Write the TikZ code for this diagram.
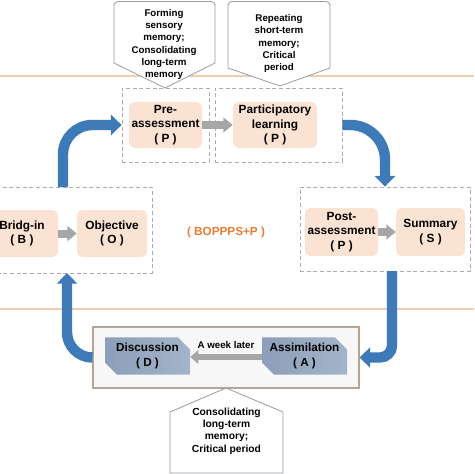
\documentclass[tikz,border=0pt]{standalone}
\usepackage{fontspec}
\setmainfont{Liberation Sans}
\usetikzlibrary{positioning,arrows.meta,shapes.misc}

\definecolor{flowblue}{RGB}{62,121,184}
\definecolor{stepfill}{RGB}{250,227,211}
\definecolor{framegray}{RGB}{172,172,175}
\definecolor{linetan}{RGB}{240,204,176}
\definecolor{slatefill}{RGB}{164,180,202}
\definecolor{slatedark}{RGB}{140,158,185}
\definecolor{calloutgray}{RGB}{150,157,167}
\definecolor{bopppsorange}{RGB}{233,124,52}
\definecolor{greyarrow}{RGB}{166,166,166}
\definecolor{reviewframe}{RGB}{180,166,150}

\tikzset{
  stepnode/.style={fill=stepfill, rounded corners=4pt, align=center, inner sep=0pt,
    font=\fontsize{8.9}{10.9}\selectfont\bfseries},
  reviewnode/.style={left color=slatedark, right color=slatefill, chamfered rectangle, chamfered rectangle corners={north east,south west},
    chamfered rectangle xsep=4.5pt, chamfered rectangle ysep=4.5pt, align=center, inner sep=0pt,
    font=\fontsize{8.8}{10.6}\selectfont\bfseries},
  stageframe/.style={draw=framegray, line width=0.6pt, dash pattern=on 3pt off 2pt, inner sep=0pt},
  memonote/.style={align=center, inner sep=0pt, font=\fontsize{7.3}{9.2}\selectfont\bfseries},
  memobox/.style={draw=calloutgray, fill=white, line width=0.6pt, line join=round},
  flowarrow/.style={draw=flowblue, line width=7.8pt, -{Triangle[width=15pt,length=8pt]}},
  steparrow/.style={draw=greyarrow, line width=6pt, -{Triangle[width=11pt,length=7pt]}},
}

\begin{document}
\begin{tikzpicture}[x=0.75pt,y=0.75pt,yscale=-1,xscale=1]
        \clip (0,0) rectangle (474,474);
        \fill[white] (0,0) rectangle (474,474);

        %Straight Lines: phase separators
        \draw[linetan, line width=0.9pt] (0,76) -- (474,76) ;
        \draw[linetan, line width=0.9pt] (0,309) -- (474,309) ;

        %Shape: stage frames
        \node [stageframe, minimum width=65.25pt, minimum height=55.5pt] (preframe) at (165.5,125) {};
        \node [stageframe, minimum width=95.25pt, minimum height=55.5pt] (partframe) at (278.5,125) {};
        \node [stageframe, minimum width=121.5pt, minimum height=64.5pt] (leftframe) at (71,230) {};
        \node [stageframe, minimum width=127.5pt, minimum height=63pt] (rightframe) at (385,229) {};
        \node [draw=reviewframe, fill=black!3, line width=0.8pt, minimum width=199.5pt, minimum height=45.75pt] (reviewframe) at (226,357.5) {};

        %Shape: top callouts
        \draw [memobox] (165,88) -- (114,63) -- (114,4) [rounded corners=3pt] -- (114,1.5) -- (215,1.5) [sharp corners] -- (215,4) -- (215,63) -- cycle ;
        \draw [memobox] (280,86) -- (228,68) -- (228,4) [rounded corners=3pt] -- (228,1.5) -- (330,1.5) [sharp corners] -- (330,4) -- (330,68) -- cycle ;
        %Shape: bottom callout
        \draw [memobox] (226,388) -- (283,412) -- (283,473) -- (170,473) -- (170,412) -- cycle ;

        % Text Node
        \node [memonote] (memoone) at (164,44.5) {Forming\\sensory\\memory;\\Consolidating\\long-term\\memory};
        % Text Node
        \node [memonote] (memotwo) at (279,43.5) {Repeating\\short-term\\memory;\\Critical\\period};
        % Text Node
        \node [memonote, font=\fontsize{7.7}{9.2}\selectfont\bfseries] (memothree) at (226.5,431) {Consolidating\\long-term\\memory;\\Critical period};

        % Step nodes
        \node [stepnode, minimum width=54.75pt, minimum height=34.5pt] (pre) at (165.5,125) {Pre-\\assessment\\( P )};
        \node [stepnode, minimum width=63pt, minimum height=34.5pt] (part) at (275,125) {Participatory\\learning\\( P )};
        \node [stepnode, minimum width=54pt, minimum height=35.25pt] (bridge) at (22,233.5) {Bridg-in\\( B )};
        \node [stepnode, minimum width=52.5pt, minimum height=35.25pt] (obj) at (112,233.5) {Objective\\( O )};
        \node [stepnode, minimum width=54.75pt, minimum height=36pt] (post) at (341.5,232) {Post-\\assessment\\( P )};
        \node [stepnode, minimum width=51.75pt, minimum height=36pt] (summ) at (430.5,232) {Summary\\( S )};
        \node [reviewnode, minimum width=63.75pt, minimum height=27pt] (disc) at (147.5,356) {Discussion\\( D )};
        \node [reviewnode, minimum width=63.75pt, minimum height=27pt] (assim) at (304.5,356) {Assimilation\\( A )};

        % Text Node
        \node [text=bopppsorange, font=\fontsize{8.8}{10}\selectfont\bfseries] (model) at (226,232) {( BOPPPS+P )};
        % Text Node
        \node [memonote] (later) at (226,345) {A week later};

        %Straight Lines: grey step arrows
        \draw [steparrow] (pre) -- (part) ;
        \draw [steparrow] (bridge) -- (obj) ;
        \draw [steparrow] (post) -- (summ) ;
        \draw [steparrow, line width=5pt, -{Triangle[width=10pt,length=6pt]}] (assim.west |- 0,357) -- (disc.east |- 0,357) ;

        %Curved Lines: blue flow arrows
        \coordinate (upstart) at (63,187) ;
        \coordinate (downstart) at (392,271) ;
        \coordinate (upend) at (67,273) ;
        \draw [flowarrow, rounded corners=22pt] (upstart) |- (preframe.west) ;
        \draw [flowarrow, rounded corners=26pt] (partframe.east) -| (rightframe.north) ;
        \draw [flowarrow, rounded corners=9pt] (downstart) |- (reviewframe.east) ;
        \draw [flowarrow, rounded corners=19pt] (reviewframe.west) -| (upend) ;

    \end{tikzpicture}
\end{document}
